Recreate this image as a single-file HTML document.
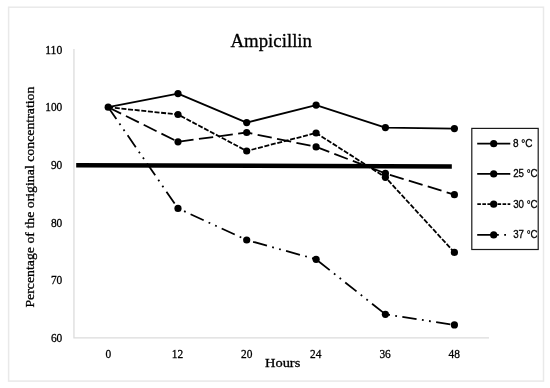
<!DOCTYPE html>
<html lang="en">
<head>
<meta charset="utf-8">
<title>Ampicillin</title>
<style>
html,body{margin:0;padding:0;background:#fff;}
body{width:550px;height:388px;overflow:hidden;}
svg{display:block;}
.serif{font-family:"Liberation Serif","DejaVu Serif",serif;fill:#000;stroke:#000;stroke-width:0.3;}
.sans{font-family:"Liberation Sans","DejaVu Sans",sans-serif;fill:#000;stroke:#000;stroke-width:0.3;}
.ln{fill:none;stroke:#000;stroke-width:1.8;stroke-linejoin:round;}
.mk circle{fill:#000;}
</style>
</head>
<body>
<svg width="550" height="388" viewBox="0 0 550 388">
<rect x="0" y="0" width="550" height="388" fill="#fff"/>
<!-- outer frame -->
<rect x="8.6" y="7.2" width="534.9" height="373.9" fill="#fff" stroke="#e9e9e9" stroke-width="1.5"/>
<!-- axes -->
<path d="M73.95 49 V337.95 H489" fill="none" stroke="#dcdcdc" stroke-width="1.3"/>
<!-- title -->
<text class="serif" x="230.5" y="46.8" font-size="19" textLength="81.5" lengthAdjust="spacingAndGlyphs">Ampicillin</text>
<!-- y tick labels -->
<g class="serif" font-size="12.8" text-anchor="end" lengthAdjust="spacingAndGlyphs">
<text x="62.3" y="53.7" textLength="17.1" lengthAdjust="spacingAndGlyphs">110</text>
<text x="62.3" y="110.8" textLength="17.1" lengthAdjust="spacingAndGlyphs">100</text>
<text x="62.3" y="168.8" textLength="11.4" lengthAdjust="spacingAndGlyphs">90</text>
<text x="62.3" y="226.7" textLength="11.4" lengthAdjust="spacingAndGlyphs">80</text>
<text x="62.3" y="284.4" textLength="11.4" lengthAdjust="spacingAndGlyphs">70</text>
<text x="62.3" y="342.1" textLength="11.4" lengthAdjust="spacingAndGlyphs">60</text>
</g>
<!-- x tick labels -->
<g class="serif" font-size="12.8" text-anchor="middle">
<text x="108.3" y="358.3" textLength="5.7" lengthAdjust="spacingAndGlyphs">0</text>
<text x="177.4" y="358.3" textLength="11.4" lengthAdjust="spacingAndGlyphs">12</text>
<text x="246.7" y="358.3" textLength="11.4" lengthAdjust="spacingAndGlyphs">20</text>
<text x="315.8" y="358.3" textLength="11.4" lengthAdjust="spacingAndGlyphs">24</text>
<text x="385.1" y="358.3" textLength="11.4" lengthAdjust="spacingAndGlyphs">36</text>
<text x="454.2" y="358.3" textLength="11.4" lengthAdjust="spacingAndGlyphs">48</text>
</g>
<!-- axis titles -->
<text class="serif" x="265" y="367.3" font-size="13.2" stroke-width="0.15" textLength="35.3" lengthAdjust="spacingAndGlyphs">Hours</text>
<text class="serif" transform="translate(34 307.6) rotate(-90)" font-size="13" stroke-width="0.15" textLength="221" lengthAdjust="spacingAndGlyphs">Percentage of the original concentration</text>
<!-- reference line at 90 -->
<path d="M76.2 165.2 L451.8 166.5" stroke="#000" stroke-width="4.5" fill="none"/>
<!-- series -->
<polyline class="ln" points="108.2,107.2 178,93.6 246.7,122.6 316.1,105.1 385.4,127.6 454.4,128.6"/>
<polyline class="ln" stroke-dasharray="14.4 5.4" points="108.2,107.2 178,141.8 246.7,132.5 316.1,146.9 385.4,173.4 454.4,194.7"/>
<polyline class="ln" stroke-dasharray="5 1.65" points="108.2,107.2 178,114.5 246.7,151 316.1,133 385.4,177.3 454.4,252.4"/>
<polyline class="ln" stroke-dasharray="14.4 5.4 1.8 5.4 1.8 5.4" points="108.2,107.2 178,208.4 246.7,240 316.1,259.3 385.4,314.3 454.4,324.9"/>
<g class="mk">
<circle cx="108.2" cy="107.2" r="3.6"/>
<circle cx="178" cy="93.6" r="3.6"/><circle cx="246.7" cy="122.6" r="3.6"/><circle cx="316.1" cy="105.1" r="3.6"/><circle cx="385.4" cy="127.6" r="3.6"/><circle cx="454.4" cy="128.6" r="3.6"/>
<circle cx="178" cy="141.8" r="3.6"/><circle cx="246.7" cy="132.5" r="3.6"/><circle cx="316.1" cy="146.9" r="3.6"/><circle cx="385.4" cy="173.4" r="3.6"/><circle cx="454.4" cy="194.7" r="3.6"/>
<circle cx="178" cy="114.5" r="3.6"/><circle cx="246.7" cy="151" r="3.6"/><circle cx="316.1" cy="133" r="3.6"/><circle cx="385.4" cy="177.3" r="3.6"/><circle cx="454.4" cy="252.4" r="3.6"/>
<circle cx="178" cy="208.4" r="3.6"/><circle cx="246.7" cy="240" r="3.6"/><circle cx="316.1" cy="259.3" r="3.6"/><circle cx="385.4" cy="314.3" r="3.6"/><circle cx="454.4" cy="324.9" r="3.6"/>
</g>
<!-- legend -->
<rect x="471.8" y="128.4" width="66.4" height="121.1" fill="#fff" stroke="#1a1a1a" stroke-width="1.2"/>
<g class="ln">
<path d="M477.2 143.7 H510.3"/>
<path d="M477.2 173.9 H510.3" stroke-dasharray="14.4 5.4"/>
<path d="M477.3 204.2 H510.3" stroke-dasharray="3.6 1.45"/>
<path d="M477.2 234.9 H510.3" stroke-dasharray="14.4 5.4 1.8 5.4 1.8 5.4"/>
</g>
<g class="mk">
<circle cx="493.7" cy="143.7" r="3.6"/><circle cx="493.7" cy="173.9" r="3.6"/><circle cx="493.7" cy="204.2" r="3.6"/><circle cx="493.7" cy="234.9" r="3.6"/>
</g>
<g class="sans" font-size="11">
<text x="512.9" y="147.1" textLength="19.6" lengthAdjust="spacingAndGlyphs">8 °C</text>
<text x="513.2" y="177.3" textLength="24.4" lengthAdjust="spacingAndGlyphs">25 °C</text>
<text x="513.2" y="207.6" textLength="24.4" lengthAdjust="spacingAndGlyphs">30 °C</text>
<text x="513.2" y="238.2" textLength="24.4" lengthAdjust="spacingAndGlyphs">37 °C</text>
</g>
</svg>
</body>
</html>
